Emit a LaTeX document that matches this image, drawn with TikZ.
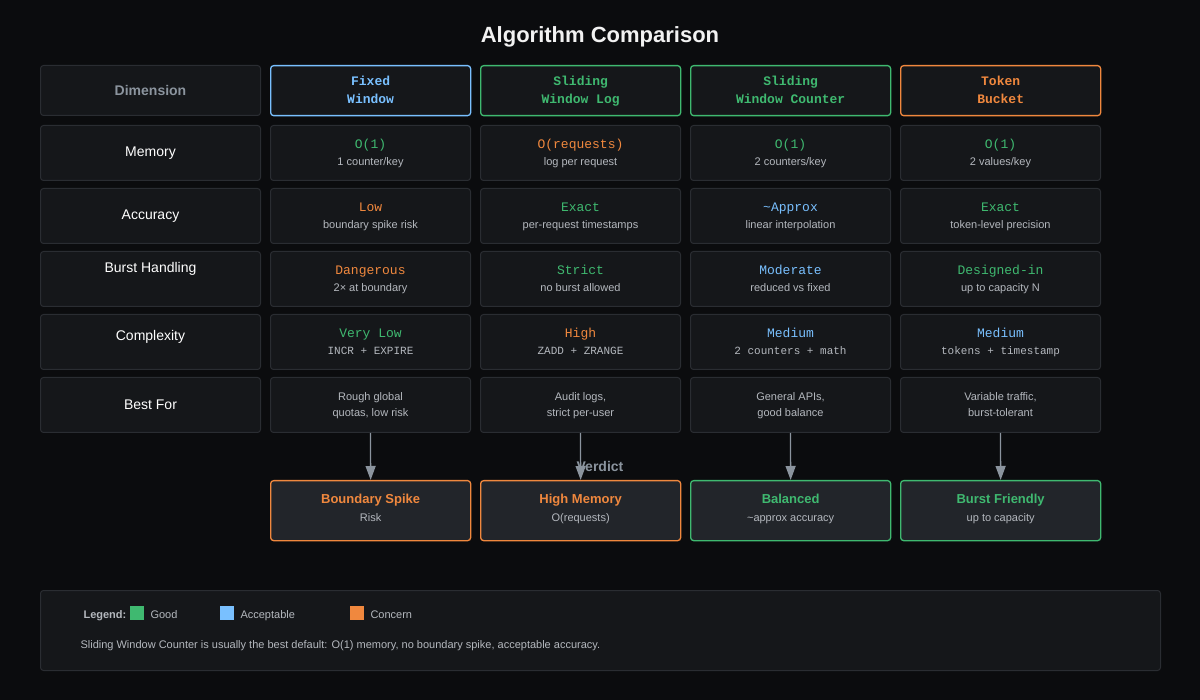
\documentclass[tikz,border=0pt]{standalone}
\usepackage{fontspec}
\setmainfont{Liberation Sans}
\setmonofont{Liberation Mono}
\usetikzlibrary{arrows.meta}
\definecolor{bg}{HTML}{0B0C0E}
\definecolor{cellf}{HTML}{15171A}
\definecolor{celld}{HTML}{2A2D32}
\definecolor{gr}{HTML}{3FB970}
\definecolor{bl}{HTML}{79C0FF}
\definecolor{orr}{HTML}{F0883E}
\definecolor{sub}{HTML}{B4B8BE}
\definecolor{arr}{HTML}{8B949E}
\definecolor{vf}{HTML}{22252A}
\tikzset{
 cell/.style={draw=celld,fill=cellf,line width=1pt,rounded corners=3pt,minimum width=200pt,minimum height=55pt,anchor=north west,inner sep=0pt},
 dimc/.style={cell,minimum width=220pt},
 val/.style={font=\ttfamily\fontsize{13}{15}\selectfont,text height=9pt,text depth=2.5pt},
 st/.style={font=\fontsize{11}{13}\selectfont,text=sub,align=center},
 sts/.style={st,text height=8pt,text depth=2pt},
 stm/.style={font=\ttfamily\fontsize{11}{13}\selectfont,text=sub,text height=8pt,text depth=2pt},
 hd/.style={font=\ttfamily\bfseries\fontsize{13}{18}\selectfont,align=center},
 dl/.style={font=\fontsize{14}{16}\selectfont,text=white},
 vb/.style={line width=1.3pt,fill=vf,rounded corners=3pt,minimum width=200pt,minimum height=60pt,anchor=north west},
 ar/.style={draw=arr,line width=1.3pt,-{Triangle[length=14pt,width=10pt]}},
}
\begin{document}
\begin{tikzpicture}[x=1pt,y=-1pt]
\fill[bg] (0,0) rectangle (1200,700);
\useasboundingbox (0,0) rectangle (1200,700);
\node[font=\bfseries\fontsize{22}{26}\selectfont,text=white!95!black] (title) at (600,37) {Algorithm Comparison};
% header
\node[dimc,minimum height=50pt] (h0) at (40,65) {};
\node[font=\bfseries\fontsize{14}{16}\selectfont,text=arr] at (h0) {Dimension};
\foreach \i/\x/\c/\t in {1/270/bl/{Fixed\\Window},2/480/gr/{Sliding\\Window Log},3/690/gr/{Sliding\\Window Counter},4/900/orr/{Token\\Bucket}}{
 \node[cell,draw=\c,line width=1.3pt,minimum height=50pt] (h\i) at (\x,65) {};
 \node[hd,text=\c] at (h\i) {\strut\t\strut};
}
% rows
\foreach \r/\y/\lab/\ly in {1/125/Memory/0,2/188/Accuracy/0,3/251/Burst Handling/10,4/314/Complexity/5,5/377/Best For/0}{
 \node[dimc] (d\r) at (40,\y) {};
 \node[dl] at ([yshift=\ly]d\r.center) {\lab};
 \foreach \i/\x in {1/270,2/480,3/690,4/900}{\node[cell] (c\r\i) at (\x,\y) {};}
}
\newcommand\cv[5]{\node[val,text=#3] at ([yshift=8]c#1#2.center) {#4};\node[sts] at ([yshift=-10]c#1#2.center) {#5};}
\newcommand\cm[5]{\node[val,text=#3] at ([yshift=8]c#1#2.center) {#4};\node[stm] at ([yshift=-10]c#1#2.center) {#5};}
\cv11{gr}{O(1)}{1 counter/key}
\cv12{orr}{O(requests)}{log per request}
\cv13{gr}{O(1)}{2 counters/key}
\cv14{gr}{O(1)}{2 values/key}
\cv21{orr}{Low}{boundary spike risk}
\cv22{gr}{Exact}{per-request timestamps}
\cv23{bl}{\textasciitilde Approx}{linear interpolation}
\cv24{gr}{Exact}{token-level precision}
\cv31{orr}{Dangerous}{2× at boundary}
\cv32{gr}{Strict}{no burst allowed}
\cv33{bl}{Moderate}{reduced vs fixed}
\cv34{gr}{Designed-in}{up to capacity N}
\cm41{gr}{Very Low}{INCR + EXPIRE}
\cm42{orr}{High}{ZADD + ZRANGE}
\cm43{bl}{Medium}{2 counters + math}
\cm44{bl}{Medium}{tokens + timestamp}
\foreach \i/\t in {1/{Rough global\\quotas, low risk},2/{Audit logs,\\strict per-user},3/{General APIs,\\good balance},4/{Variable traffic,\\burst-tolerant}}{
 \node[st,font=\fontsize{11}{16}\selectfont] at (c5\i) {\strut\t\strut};
}
% verdict
\node[font=\bfseries\fontsize{14}{16}\selectfont,text=arr] (vt) at (600,466) {Verdict};
\foreach \i/\x/\c/\a/\b in {1/270/orr/Boundary Spike/Risk,2/480/orr/High Memory/O(requests),3/690/gr/Balanced/\textasciitilde approx accuracy,4/900/gr/Burst Friendly/up to capacity}{
 \node[vb,draw=\c] (v\i) at (\x,480) {};
 \node[font=\bfseries\fontsize{13}{15}\selectfont,text=\c,text height=9.5pt,text depth=2.5pt] at ([yshift=11]v\i.center) {\a};
 \node[sts] at ([yshift=-8]v\i.center) {\b};
 \draw[ar] (c5\i.south) -- (v\i.north);
}
% legend
\node[draw=celld,fill=cellf,line width=1pt,rounded corners=3pt,minimum width=1120pt,minimum height=80pt,anchor=north west] (lg) at (40,590) {};
\node[anchor=base west,font=\bfseries\fontsize{11}{13}\selectfont,text=sub] (lgt) at (80,618) {Legend:};
\fill[gr] (130,606) rectangle (144,620);
\node[anchor=base west,st] at (147,618) {Good};
\fill[bl] (220,606) rectangle (234,620);
\node[anchor=base west,st] at (237,618) {Acceptable};
\fill[orr] (350,606) rectangle (364,620);
\node[anchor=base west,st] at (367,618) {Concern};
\node[anchor=base west,st] at (77,648) {Sliding Window Counter is usually the best default: O(1) memory, no boundary spike, acceptable accuracy.};
\end{tikzpicture}
\end{document}
